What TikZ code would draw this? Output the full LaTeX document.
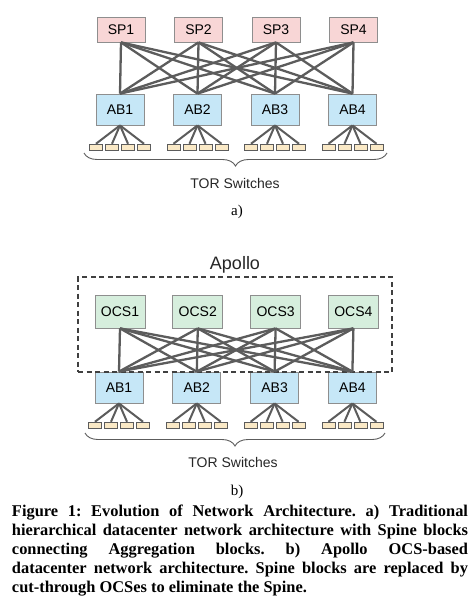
\documentclass[tikz,border=0pt]{standalone}
\usepackage{fontspec}
\setmainfont{Liberation Serif}
\setsansfont{Liberation Sans}
\usetikzlibrary{positioning,decorations.pathreplacing}

\definecolor{spinefill}{HTML}{F8D6D6}
\definecolor{aggfill}{HTML}{C6E7F7}
\definecolor{ocsfill}{HTML}{D6EEDD}
\definecolor{torfill}{HTML}{FAE9C6}
\definecolor{boxgray}{HTML}{8E8E8E}
\definecolor{meshgray}{HTML}{5C5C5C}

\begin{document}
\begin{tikzpicture}
				[
					x=1pt, y=-1pt,
					spinenode/.style={rectangle, draw=boxgray, fill=spinefill, thick, minimum width=48pt, minimum height=25pt, font=\sffamily\fontsize{14}{14}\selectfont},
					aggnode/.style={rectangle, draw=boxgray, fill=aggfill, thick, minimum width=48pt, minimum height=31pt, font=\sffamily\fontsize{14}{14}\selectfont},
					ocsnode/.style={rectangle, draw=boxgray, fill=ocsfill, thick, minimum width=50pt, minimum height=33pt, font=\sffamily\fontsize{14}{14}\selectfont},
					torbox/.style={rectangle, draw=meshgray, fill=torfill, line width=0.8pt, minimum width=13pt, minimum height=6.5pt, inner sep=0pt},
					meshline/.style={draw=meshgray, line width=2.3pt},
					torline/.style={draw=meshgray, line width=2pt},
					bracestyle/.style={draw=meshgray, line width=0.9pt, decorate, decoration={brace, mirror, amplitude=13pt}},
					labeltext/.style={font=\sffamily\fontsize{14}{14}\selectfont, text=black!85},
					subcap/.style={font=\fontsize{15}{15}\selectfont},
				]
				\useasboundingbox (0,0) rectangle (474,608);

				% a) spine blocks and aggregation blocks
				\node [spinenode] (sp1) at (121,29.5) {SP1};
				\node [spinenode] (sp2) [right=28.7pt of sp1] {SP2};
				\node [spinenode] (sp3) [right=28.7pt of sp2] {SP3};
				\node [spinenode] (sp4) [right=28.7pt of sp3] {SP4};
				\node [aggnode] (aba1) at (120,109.5) {AB1};
				\node [aggnode] (aba2) [right=28.7pt of aba1] {AB2};
				\node [aggnode] (aba3) [right=28.7pt of aba2] {AB3};
				\node [aggnode] (aba4) [right=28.7pt of aba3] {AB4};

				% b) OCS layer and aggregation blocks
				\node [ocsnode] (ocs1) at (120,311.5) {OCS1};
				\node [ocsnode] (ocs2) [right=27pt of ocs1] {OCS2};
				\node [ocsnode] (ocs3) [right=27pt of ocs2] {OCS3};
				\node [ocsnode] (ocs4) [right=27pt of ocs3] {OCS4};
				\node [aggnode] (abb1) at (119,387.5) {AB1};
				\node [aggnode] (abb2) [right=29pt of abb1] {AB2};
				\node [aggnode] (abb3) [right=29pt of abb2] {AB3};
				\node [aggnode] (abb4) [right=29pt of abb3] {AB4};

				\node [rectangle, draw=black!75, line width=1.1pt, dash pattern=on 5pt off 3.5pt, minimum width=314pt, minimum height=95pt] (apollobox) at (235,324.5) {};
				\node [font=\sffamily\fontsize{18}{18}\selectfont, text=black!85] (apollo) at (235,265) {Apollo};

				% full mesh between the two upper layers
				\foreach \s in {1,...,4}
					\foreach \b in {1,...,4}
					{
						\draw[meshline] (sp\s.south) -- (aba\b.north);
						\draw[meshline] (ocs\s.south) -- (abb\b.north);
					}

				% top of rack switches
				\foreach \b in {1,...,4}
					\foreach \t/\dx in {1/-24,2/-8,3/8,4/24}
					{
						\node [torbox] (tora\b\t) at ([xshift=\dx pt, yshift=-22pt]aba\b.south) {};
						\node [torbox] (torb\b\t) at ([xshift=\dx pt, yshift=-22pt]abb\b.south) {};
						\draw[torline] (aba\b.south) -- (tora\b\t.north);
						\draw[torline] (abb\b.south) -- (torb\b\t.north);
					}

				\coordinate (bracea1) at (84,153);
				\coordinate (bracea2) at (387,153);
				\coordinate (braceb1) at (85,433);
				\coordinate (braceb2) at (385,433);
				\draw[bracestyle] (bracea1) -- (bracea2);
				\draw[bracestyle] (braceb1) -- (braceb2);
				\node [labeltext] (tortexta) at (235,183) {TOR Switches};
				\node [labeltext] (tortextb) at (233,462) {TOR Switches};

				\node [subcap] (capa) at (237,212) {a)};
				\node [subcap] (capb) at (237,492) {b)};

				\node [anchor=north, inner sep=0pt, text width=456pt, align=justify, font=\bfseries\fontsize{16.4}{19}\selectfont] (caption) at (240,505) {\frenchspacing\hyphenpenalty=10000 Figure 1: Evolution of Network Architecture. a) Traditional\linebreak hierarchical datacenter network architecture with Spine blocks\linebreak connecting Aggregation blocks. b) Apollo OCS-based\linebreak datacenter network architecture. Spine blocks are replaced by\linebreak cut-through OCSes to eliminate the Spine.};

			\end{tikzpicture}
\end{document}
